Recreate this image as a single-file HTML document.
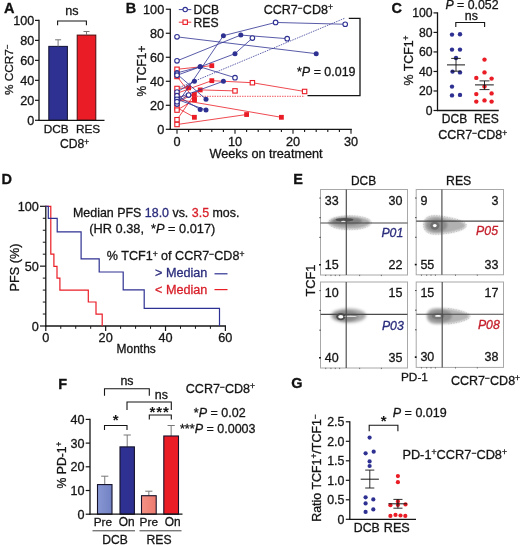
<!DOCTYPE html>
<html lang="en"><head><meta charset="utf-8"><title>Figure</title>
<style>
html,body{margin:0;padding:0;background:#fff;}
body{width:520px;height:545px;overflow:hidden;}
svg{display:block;font-family:"Liberation Sans",Arial,Helvetica,sans-serif;}
svg text{stroke-width:0.3px;}
</style></head><body>
<svg width="520" height="545" viewBox="0 0 520 545">
<defs>
<filter id="bl0" x="-50%" y="-50%" width="200%" height="200%"><feGaussianBlur stdDeviation="0.6"/></filter>
<filter id="bl1" x="-50%" y="-50%" width="200%" height="200%"><feGaussianBlur stdDeviation="1.1"/></filter>
<filter id="bl2" x="-50%" y="-50%" width="200%" height="200%"><feGaussianBlur stdDeviation="1.8"/></filter>
<linearGradient id="gLB" x1="0" x2="1" y1="0" y2="0"><stop offset="0" stop-color="#8797d4"/><stop offset="1" stop-color="#7281c2"/></linearGradient>
<linearGradient id="gLR" x1="0" x2="1" y1="0" y2="0"><stop offset="0" stop-color="#f39185"/><stop offset="1" stop-color="#ed7a6f"/></linearGradient>
</defs>
<rect width="520" height="545" fill="#fff"/>
<g id="panelA">
<text x="4" y="13.2" font-size="14.5" font-weight="bold" fill="#111" stroke="#111">A</text>
<rect x="48.8" y="46.37" width="18.6" height="73.93" fill="#2e3192" stroke="#121235" stroke-width="1"/>
<rect x="77.2" y="35.09" width="18.6" height="85.21" fill="#ea1c25" stroke="#4a0b0e" stroke-width="1"/>
<line x1="58.1" y1="46.373999999999995" x2="58.1" y2="39.8" stroke="#777" stroke-width="1" />
<line x1="55.1" y1="39.8" x2="61.1" y2="39.8" stroke="#777" stroke-width="1" />
<line x1="86.5" y1="35.085300000000004" x2="86.5" y2="31.5" stroke="#777" stroke-width="1" />
<line x1="83.5" y1="31.5" x2="89.5" y2="31.5" stroke="#777" stroke-width="1" />
<line x1="39.0" y1="19.799999999999997" x2="39.0" y2="120.89999999999999" stroke="#151515" stroke-width="1.3" />
<line x1="38.4" y1="120.3" x2="104.5" y2="120.3" stroke="#151515" stroke-width="1.3" />
<line x1="35.0" y1="120.3" x2="39.0" y2="120.3" stroke="#151515" stroke-width="1.2" />
<text id="t1" x="34.2" y="124.81" text-anchor="end" font-size="12.6" fill="#151515" stroke="#151515" >0</text>
<line x1="35.0" y1="100.32" x2="39.0" y2="100.32" stroke="#151515" stroke-width="1.2" />
<text id="t2" x="34.2" y="104.83" text-anchor="end" font-size="12.6" fill="#151515" stroke="#151515" >20</text>
<line x1="35.0" y1="80.34" x2="39.0" y2="80.34" stroke="#151515" stroke-width="1.2" />
<text id="t3" x="34.2" y="84.85" text-anchor="end" font-size="12.6" fill="#151515" stroke="#151515" >40</text>
<line x1="35.0" y1="60.36" x2="39.0" y2="60.36" stroke="#151515" stroke-width="1.2" />
<text id="t4" x="34.2" y="64.87" text-anchor="end" font-size="12.6" fill="#151515" stroke="#151515" >60</text>
<line x1="35.0" y1="40.379999999999995" x2="39.0" y2="40.379999999999995" stroke="#151515" stroke-width="1.2" />
<text id="t5" x="34.2" y="44.89" text-anchor="end" font-size="12.6" fill="#151515" stroke="#151515" >80</text>
<line x1="35.0" y1="20.39999999999999" x2="39.0" y2="20.39999999999999" stroke="#151515" stroke-width="1.2" />
<text id="t6" x="34.2" y="24.91" text-anchor="end" font-size="12.6" fill="#151515" stroke="#151515" >100</text>
<text id="t7" transform="translate(12.8 69.7) rotate(-90)" text-anchor="middle" font-size="11.8" fill="#151515" stroke="#151515">% CCR7<tspan dy="-0.36em" style="font-size:68%">&#8722;</tspan><tspan dy="0.245em">&#8203;</tspan></text>
<path d="M57.6 25.3V21H86.4V25.3" stroke="#151515" stroke-width="1.1" fill="none" />
<text id="t8" x="72" y="14.7" text-anchor="middle" font-size="12.6" fill="#151515" stroke="#151515" >ns</text>
<text id="t9" x="56.1" y="132.7" text-anchor="middle" font-size="11.8" fill="#151515" stroke="#151515" >DCB</text>
<text id="t10" x="88.1" y="132.7" text-anchor="middle" font-size="11.81" fill="#151515" stroke="#151515" >RES</text>
<text id="t11" x="60" y="148.2" text-anchor="start" font-size="12.16" fill="#151515" stroke="#151515" >CD8<tspan dy="-0.42em" style="font-size:68%">+</tspan><tspan dy="0.286em">&#8203;</tspan></text>
</g>
<g id="panelB">
<text x="125.8" y="13.2" font-size="14.5" font-weight="bold" fill="#111" stroke="#111">B</text>
<line x1="177.0" y1="96.29" x2="304.6" y2="96.29" stroke="#ea1c25" stroke-width="0.75" stroke-dasharray="1.5 1"/>
<line x1="177.0" y1="88.48" x2="345.2" y2="18.01" stroke="#2e3192" stroke-width="0.75" stroke-dasharray="1.5 1"/>
<path d="M177.0 69.28L211.8 65.67" stroke="#ea1c25" stroke-width="0.8" fill="none" />
<path d="M177.0 76.48L194.4 99.29" stroke="#ea1c25" stroke-width="0.8" fill="none" />
<path d="M177.0 93.29L211.8 80.68L252.4 82.72L304.6 91.48" stroke="#ea1c25" stroke-width="0.8" fill="none" />
<path d="M177.0 102.89L200.2 89.92L235.0 90.88" stroke="#ea1c25" stroke-width="0.8" fill="none" />
<path d="M177.0 88.48L188.6 87.88" stroke="#ea1c25" stroke-width="0.8" fill="none" />
<path d="M177.0 119.7L194.4 94.49" stroke="#ea1c25" stroke-width="0.8" fill="none" />
<path d="M177.0 107.69L194.4 117.3" stroke="#ea1c25" stroke-width="0.8" fill="none" />
<path d="M177.0 124.5L246.6 114.53" stroke="#ea1c25" stroke-width="0.8" fill="none" />
<path d="M177.0 99.29L281.4 117.3" stroke="#ea1c25" stroke-width="0.8" fill="none" />
<path d="M177.0 110.09L194.4 99.89" stroke="#ea1c25" stroke-width="0.8" fill="none" />
<rect x="174.80" y="67.08" width="4.4" height="4.4" fill="#fff" stroke="#ea1c25" stroke-width="1.1"/>
<rect x="209.40" y="63.27" width="4.8" height="4.8" fill="#ea1c25"/>
<rect x="174.80" y="74.28" width="4.4" height="4.4" fill="#fff" stroke="#ea1c25" stroke-width="1.1"/>
<rect x="192.00" y="96.89" width="4.8" height="4.8" fill="#ea1c25"/>
<rect x="174.80" y="91.09" width="4.4" height="4.4" fill="#fff" stroke="#ea1c25" stroke-width="1.1"/>
<rect x="209.40" y="78.28" width="4.8" height="4.8" fill="#ea1c25"/>
<rect x="250.20" y="80.52" width="4.4" height="4.4" fill="#fff" stroke="#ea1c25" stroke-width="1.1"/>
<rect x="302.40" y="89.28" width="4.4" height="4.4" fill="#fff" stroke="#ea1c25" stroke-width="1.1"/>
<rect x="174.80" y="100.69" width="4.4" height="4.4" fill="#fff" stroke="#ea1c25" stroke-width="1.1"/>
<rect x="197.80" y="87.52" width="4.8" height="4.8" fill="#ea1c25"/>
<rect x="232.80" y="88.68" width="4.4" height="4.4" fill="#fff" stroke="#ea1c25" stroke-width="1.1"/>
<rect x="174.80" y="86.28" width="4.4" height="4.4" fill="#fff" stroke="#ea1c25" stroke-width="1.1"/>
<rect x="186.20" y="85.48" width="4.8" height="4.8" fill="#ea1c25"/>
<rect x="174.80" y="117.50" width="4.4" height="4.4" fill="#fff" stroke="#ea1c25" stroke-width="1.1"/>
<rect x="192.00" y="92.09" width="4.8" height="4.8" fill="#ea1c25"/>
<rect x="174.80" y="105.49" width="4.4" height="4.4" fill="#fff" stroke="#ea1c25" stroke-width="1.1"/>
<rect x="192.00" y="114.90" width="4.8" height="4.8" fill="#ea1c25"/>
<rect x="174.80" y="122.30" width="4.4" height="4.4" fill="#fff" stroke="#ea1c25" stroke-width="1.1"/>
<rect x="244.20" y="112.13" width="4.8" height="4.8" fill="#ea1c25"/>
<rect x="174.80" y="97.09" width="4.4" height="4.4" fill="#fff" stroke="#ea1c25" stroke-width="1.1"/>
<rect x="279.00" y="114.90" width="4.8" height="4.8" fill="#ea1c25"/>
<rect x="174.80" y="107.89" width="4.4" height="4.4" fill="#fff" stroke="#ea1c25" stroke-width="1.1"/>
<rect x="192.00" y="97.49" width="4.8" height="4.8" fill="#ea1c25"/>
<path d="M177.0 36.86L316.2 53.67" stroke="#2e3192" stroke-width="0.8" fill="none" />
<path d="M177.0 60.87L240.8 35.06L287.2 38.66" stroke="#2e3192" stroke-width="0.8" fill="none" />
<path d="M177.0 72.88L200.2 66.87L235.0 53.67L252.4 38.06" stroke="#2e3192" stroke-width="0.8" fill="none" />
<path d="M177.0 104.09L223.4 35.66L275.6 22.46L345.2 24.26" stroke="#2e3192" stroke-width="0.8" fill="none" />
<path d="M177.0 74.08L206.0 99.29" stroke="#2e3192" stroke-width="0.8" fill="none" />
<path d="M177.0 92.08L194.4 81.28" stroke="#2e3192" stroke-width="0.8" fill="none" />
<path d="M177.0 98.09L223.4 81.28" stroke="#2e3192" stroke-width="0.8" fill="none" />
<path d="M177.0 75.28L200.2 66.87L235.0 77.68" stroke="#2e3192" stroke-width="0.8" fill="none" />
<path d="M177.0 95.69L200.2 109.49" stroke="#2e3192" stroke-width="0.8" fill="none" />
<path d="M177.0 99.29L206.0 110.09" stroke="#2e3192" stroke-width="0.8" fill="none" />
<path d="M177.0 101.69L188.6 95.09" stroke="#2e3192" stroke-width="0.8" fill="none" />
<circle cx="177.0" cy="36.86" r="2.3" fill="#fff" stroke="#2e3192" stroke-width="1.1"/>
<circle cx="316.2" cy="53.67" r="2.5" fill="#2e3192"/>
<circle cx="177.0" cy="60.87" r="2.3" fill="#fff" stroke="#2e3192" stroke-width="1.1"/>
<circle cx="240.8" cy="35.06" r="2.5" fill="#2e3192"/>
<circle cx="287.2" cy="38.66" r="2.3" fill="#fff" stroke="#2e3192" stroke-width="1.1"/>
<circle cx="177.0" cy="72.88" r="2.3" fill="#fff" stroke="#2e3192" stroke-width="1.1"/>
<circle cx="200.2" cy="66.87" r="2.5" fill="#2e3192"/>
<circle cx="235.0" cy="53.67" r="2.5" fill="#2e3192"/>
<circle cx="252.4" cy="38.06" r="2.3" fill="#fff" stroke="#2e3192" stroke-width="1.1"/>
<circle cx="177.0" cy="104.09" r="2.3" fill="#fff" stroke="#2e3192" stroke-width="1.1"/>
<circle cx="223.4" cy="35.66" r="2.5" fill="#2e3192"/>
<circle cx="275.6" cy="22.46" r="2.3" fill="#fff" stroke="#2e3192" stroke-width="1.1"/>
<circle cx="345.2" cy="24.26" r="2.3" fill="#fff" stroke="#2e3192" stroke-width="1.1"/>
<circle cx="177.0" cy="74.08" r="2.3" fill="#fff" stroke="#2e3192" stroke-width="1.1"/>
<circle cx="206.0" cy="99.29" r="2.5" fill="#2e3192"/>
<circle cx="177.0" cy="92.08" r="2.3" fill="#fff" stroke="#2e3192" stroke-width="1.1"/>
<circle cx="194.4" cy="81.28" r="2.5" fill="#2e3192"/>
<circle cx="177.0" cy="98.09" r="2.3" fill="#fff" stroke="#2e3192" stroke-width="1.1"/>
<circle cx="223.4" cy="81.28" r="2.5" fill="#2e3192"/>
<circle cx="177.0" cy="75.28" r="2.3" fill="#fff" stroke="#2e3192" stroke-width="1.1"/>
<circle cx="200.2" cy="66.87" r="2.5" fill="#2e3192"/>
<circle cx="235.0" cy="77.68" r="2.3" fill="#fff" stroke="#2e3192" stroke-width="1.1"/>
<circle cx="177.0" cy="95.69" r="2.3" fill="#fff" stroke="#2e3192" stroke-width="1.1"/>
<circle cx="200.2" cy="109.49" r="2.5" fill="#2e3192"/>
<circle cx="177.0" cy="99.29" r="2.3" fill="#fff" stroke="#2e3192" stroke-width="1.1"/>
<circle cx="206.0" cy="110.09" r="2.5" fill="#2e3192"/>
<circle cx="177.0" cy="101.69" r="2.3" fill="#fff" stroke="#2e3192" stroke-width="1.1"/>
<circle cx="188.6" cy="95.09" r="2.3" fill="#fff" stroke="#2e3192" stroke-width="1.1"/>
<line x1="170.3" y1="8.65" x2="170.3" y2="129.9" stroke="#151515" stroke-width="1.3" />
<line x1="169.7" y1="129.3" x2="351.8" y2="129.3" stroke="#151515" stroke-width="1.3" />
<line x1="165.8" y1="129.3" x2="170.3" y2="129.3" stroke="#151515" stroke-width="1.2" />
<text id="t12" x="164.2" y="133.85" text-anchor="end" font-size="12.7" fill="#151515" stroke="#151515" >0</text>
<line x1="165.8" y1="105.29" x2="170.3" y2="105.29" stroke="#151515" stroke-width="1.2" />
<text id="t13" x="164.2" y="109.84" text-anchor="end" font-size="12.7" fill="#151515" stroke="#151515" >20</text>
<line x1="165.8" y1="81.28" x2="170.3" y2="81.28" stroke="#151515" stroke-width="1.2" />
<text id="t14" x="164.2" y="85.83" text-anchor="end" font-size="12.7" fill="#151515" stroke="#151515" >40</text>
<line x1="165.8" y1="57.27" x2="170.3" y2="57.27" stroke="#151515" stroke-width="1.2" />
<text id="t15" x="164.2" y="61.82" text-anchor="end" font-size="12.7" fill="#151515" stroke="#151515" >60</text>
<line x1="165.8" y1="33.26" x2="170.3" y2="33.26" stroke="#151515" stroke-width="1.2" />
<text id="t16" x="164.2" y="37.81" text-anchor="end" font-size="12.7" fill="#151515" stroke="#151515" >80</text>
<line x1="165.8" y1="9.25" x2="170.3" y2="9.25" stroke="#151515" stroke-width="1.2" />
<text id="t17" x="164.2" y="13.8" text-anchor="end" font-size="12.7" fill="#151515" stroke="#151515" >100</text>
<line x1="177.0" y1="129.3" x2="177.0" y2="133.8" stroke="#151515" stroke-width="1.1" />
<line x1="188.6" y1="129.3" x2="188.6" y2="132.10000000000002" stroke="#151515" stroke-width="1.1" />
<line x1="200.2" y1="129.3" x2="200.2" y2="132.10000000000002" stroke="#151515" stroke-width="1.1" />
<line x1="211.8" y1="129.3" x2="211.8" y2="132.10000000000002" stroke="#151515" stroke-width="1.1" />
<line x1="223.4" y1="129.3" x2="223.4" y2="132.10000000000002" stroke="#151515" stroke-width="1.1" />
<line x1="235.0" y1="129.3" x2="235.0" y2="133.8" stroke="#151515" stroke-width="1.1" />
<line x1="246.6" y1="129.3" x2="246.6" y2="132.10000000000002" stroke="#151515" stroke-width="1.1" />
<line x1="258.2" y1="129.3" x2="258.2" y2="132.10000000000002" stroke="#151515" stroke-width="1.1" />
<line x1="269.8" y1="129.3" x2="269.8" y2="132.10000000000002" stroke="#151515" stroke-width="1.1" />
<line x1="281.4" y1="129.3" x2="281.4" y2="132.10000000000002" stroke="#151515" stroke-width="1.1" />
<line x1="293.0" y1="129.3" x2="293.0" y2="133.8" stroke="#151515" stroke-width="1.1" />
<line x1="304.6" y1="129.3" x2="304.6" y2="132.10000000000002" stroke="#151515" stroke-width="1.1" />
<line x1="316.2" y1="129.3" x2="316.2" y2="132.10000000000002" stroke="#151515" stroke-width="1.1" />
<line x1="327.8" y1="129.3" x2="327.8" y2="132.10000000000002" stroke="#151515" stroke-width="1.1" />
<line x1="339.4" y1="129.3" x2="339.4" y2="132.10000000000002" stroke="#151515" stroke-width="1.1" />
<line x1="351.0" y1="129.3" x2="351.0" y2="133.8" stroke="#151515" stroke-width="1.1" />
<text id="t18" x="177.0" y="145.5" text-anchor="middle" font-size="12.7" fill="#151515" stroke="#151515" >0</text>
<text id="t19" x="235.0" y="145.5" text-anchor="middle" font-size="12.7" fill="#151515" stroke="#151515" >10</text>
<text id="t20" x="293.0" y="145.5" text-anchor="middle" font-size="12.7" fill="#151515" stroke="#151515" >20</text>
<text id="t21" x="351.0" y="145.5" text-anchor="middle" font-size="12.7" fill="#151515" stroke="#151515" >30</text>
<text id="t22" x="266" y="157.7" text-anchor="middle" font-size="12.68" fill="#151515" stroke="#151515" >Weeks on treatment</text>
<text id="t23" transform="translate(146.1 71) rotate(-90)" text-anchor="middle" font-size="12.05" fill="#151515" stroke="#151515">% TCF1+</text>
<line x1="178.8" y1="9.6" x2="191.3" y2="9.6" stroke="#2e3192" stroke-width="0.9" />
<circle cx="185.2" cy="9.6" r="2.2" fill="#fff" stroke="#2e3192" stroke-width="1.1"/>
<text id="t24" x="193.6" y="14" text-anchor="start" font-size="12.13" fill="#151515" stroke="#151515" >DCB</text>
<line x1="178.8" y1="22.2" x2="191.3" y2="22.2" stroke="#ea1c25" stroke-width="0.9" />
<rect x="183" y="20" width="4.4" height="4.4" fill="#fff" stroke="#ea1c25" stroke-width="1.1"/>
<text id="t25" x="193.6" y="26.7" text-anchor="start" font-size="12.16" fill="#151515" stroke="#151515" >RES</text>
<text id="t26" x="263.7" y="13.8" text-anchor="start" font-size="12.56" fill="#151515" stroke="#151515" >CCR7<tspan dy="-0.36em" style="font-size:68%">&#8722;</tspan><tspan dy="0.245em">&#8203;</tspan>CD8<tspan dy="-0.42em" style="font-size:68%">+</tspan><tspan dy="0.286em">&#8203;</tspan></text>
<path d="M348.8 18.3H360V95.7H307.5" stroke="#151515" stroke-width="1.3" fill="none" />
<text id="t27" x="297" y="76.2" text-anchor="start" font-size="12.46" fill="#151515" stroke="#151515" >*<tspan font-style="italic">P</tspan> = 0.019</text>
</g>
<g id="panelC">
<text x="391.6" y="13.2" font-size="14.5" font-weight="bold" fill="#111" stroke="#111">C</text>
<text id="t28" x="445.5" y="9.0" text-anchor="start" font-size="12.31" fill="#151515" stroke="#151515" ><tspan font-style="italic">P</tspan> = 0.052</text>
<path d="M455.8 27V22.5H484.6V27" stroke="#151515" stroke-width="1.1" fill="none" />
<text id="t29" x="471.3" y="19.5" text-anchor="middle" font-size="12.4" fill="#151515" stroke="#151515" >ns</text>
<line x1="437.5" y1="12.3" x2="437.5" y2="111.1" stroke="#151515" stroke-width="1.3" />
<line x1="436.9" y1="110.5" x2="498.8" y2="110.5" stroke="#151515" stroke-width="1.3" />
<line x1="433.5" y1="110.5" x2="437.5" y2="110.5" stroke="#151515" stroke-width="1.2" />
<text id="t30" x="432.5" y="114.87" text-anchor="end" font-size="12.2" fill="#151515" stroke="#151515" >0</text>
<line x1="433.5" y1="90.98" x2="437.5" y2="90.98" stroke="#151515" stroke-width="1.2" />
<text id="t31" x="432.5" y="95.35" text-anchor="end" font-size="12.2" fill="#151515" stroke="#151515" >20</text>
<line x1="433.5" y1="71.46" x2="437.5" y2="71.46" stroke="#151515" stroke-width="1.2" />
<text id="t32" x="432.5" y="75.83" text-anchor="end" font-size="12.2" fill="#151515" stroke="#151515" >40</text>
<line x1="433.5" y1="51.94" x2="437.5" y2="51.94" stroke="#151515" stroke-width="1.2" />
<text id="t33" x="432.5" y="56.31" text-anchor="end" font-size="12.2" fill="#151515" stroke="#151515" >60</text>
<line x1="433.5" y1="32.42" x2="437.5" y2="32.42" stroke="#151515" stroke-width="1.2" />
<text id="t34" x="432.5" y="36.79" text-anchor="end" font-size="12.2" fill="#151515" stroke="#151515" >80</text>
<line x1="433.5" y1="12.9" x2="437.5" y2="12.9" stroke="#151515" stroke-width="1.2" />
<text id="t35" x="432.5" y="17.27" text-anchor="end" font-size="12.2" fill="#151515" stroke="#151515" >100</text>
<text id="t36" transform="translate(413.0 60.5) rotate(-90)" text-anchor="middle" font-size="12.39" fill="#151515" stroke="#151515">% TCF1<tspan dy="-0.42em" style="font-size:68%">+</tspan><tspan dy="0.286em">&#8203;</tspan></text>
<circle cx="452" cy="34.6" r="2.2" fill="#2e3192"/>
<circle cx="460" cy="34.2" r="2.2" fill="#2e3192"/>
<circle cx="452" cy="49.6" r="2.2" fill="#2e3192"/>
<circle cx="460" cy="49.6" r="2.2" fill="#2e3192"/>
<circle cx="456" cy="58.0" r="2.2" fill="#2e3192"/>
<circle cx="452.5" cy="71.6" r="2.2" fill="#2e3192"/>
<circle cx="460" cy="72.4" r="2.2" fill="#2e3192"/>
<circle cx="452" cy="86.6" r="2.2" fill="#2e3192"/>
<circle cx="452" cy="95.4" r="2.2" fill="#2e3192"/>
<circle cx="460" cy="94.9" r="2.2" fill="#2e3192"/>
<circle cx="484.5" cy="59.6" r="2.2" fill="#ea1c25"/>
<circle cx="484.5" cy="72.4" r="2.2" fill="#ea1c25"/>
<circle cx="476.3" cy="77.9" r="2.2" fill="#ea1c25"/>
<circle cx="491.6" cy="78.6" r="2.2" fill="#ea1c25"/>
<circle cx="484.5" cy="86.6" r="2.2" fill="#ea1c25"/>
<circle cx="476.3" cy="94.1" r="2.2" fill="#ea1c25"/>
<circle cx="491.6" cy="93.4" r="2.2" fill="#ea1c25"/>
<circle cx="476.3" cy="101.6" r="2.2" fill="#ea1c25"/>
<circle cx="484.5" cy="100.4" r="2.2" fill="#ea1c25"/>
<circle cx="491.6" cy="101.6" r="2.2" fill="#ea1c25"/>
<line x1="447" y1="64.9" x2="465" y2="64.9" stroke="#151515" stroke-width="1" />
<line x1="456" y1="58.4" x2="456" y2="71.2" stroke="#151515" stroke-width="0.9" />
<line x1="451.2" y1="58.4" x2="460.8" y2="58.4" stroke="#151515" stroke-width="0.9" />
<line x1="451.2" y1="71.2" x2="460.8" y2="71.2" stroke="#151515" stroke-width="0.9" />
<line x1="475" y1="84.9" x2="493.8" y2="84.9" stroke="#151515" stroke-width="1" />
<line x1="484.5" y1="80.9" x2="484.5" y2="89.6" stroke="#151515" stroke-width="0.9" />
<line x1="479.5" y1="80.9" x2="489.5" y2="80.9" stroke="#151515" stroke-width="0.9" />
<line x1="479.5" y1="89.6" x2="489.5" y2="89.6" stroke="#151515" stroke-width="0.9" />
<text id="t37" x="454.5" y="123" text-anchor="middle" font-size="12.03" fill="#151515" stroke="#151515" >DCB</text>
<text id="t38" x="486.3" y="123" text-anchor="middle" font-size="12.05" fill="#151515" stroke="#151515" >RES</text>
<text id="t39" x="472.7" y="139.3" text-anchor="middle" font-size="12.53" fill="#151515" stroke="#151515" >CCR7<tspan dy="-0.36em" style="font-size:68%">&#8722;</tspan><tspan dy="0.245em">&#8203;</tspan>CD8<tspan dy="-0.42em" style="font-size:68%">+</tspan><tspan dy="0.286em">&#8203;</tspan></text>
</g>
<g id="panelD">
<text x="1.6" y="184" font-size="14.5" font-weight="bold" fill="#111" stroke="#111">D</text>
<line x1="45.8" y1="205.70000000000002" x2="45.8" y2="326.6" stroke="#151515" stroke-width="1.3" />
<line x1="45.199999999999996" y1="326" x2="225.98" y2="326" stroke="#151515" stroke-width="1.3" />
<line x1="40.0" y1="326.0" x2="45.8" y2="326.0" stroke="#151515" stroke-width="1.2" />
<text id="t40" x="38.9" y="330.55" text-anchor="end" font-size="12.7" fill="#151515" stroke="#151515" >0</text>
<line x1="40.0" y1="266.15" x2="45.8" y2="266.15" stroke="#151515" stroke-width="1.2" />
<text id="t41" x="38.9" y="270.7" text-anchor="end" font-size="12.7" fill="#151515" stroke="#151515" >50</text>
<line x1="40.0" y1="206.3" x2="45.8" y2="206.3" stroke="#151515" stroke-width="1.2" />
<text id="t42" x="38.9" y="210.85" text-anchor="end" font-size="12.7" fill="#151515" stroke="#151515" >100</text>
<line x1="42.8" y1="314.03" x2="45.8" y2="314.03" stroke="#151515" stroke-width="1.0" />
<line x1="42.8" y1="302.06" x2="45.8" y2="302.06" stroke="#151515" stroke-width="1.0" />
<line x1="42.8" y1="290.09" x2="45.8" y2="290.09" stroke="#151515" stroke-width="1.0" />
<line x1="42.8" y1="278.12" x2="45.8" y2="278.12" stroke="#151515" stroke-width="1.0" />
<line x1="42.8" y1="254.18" x2="45.8" y2="254.18" stroke="#151515" stroke-width="1.0" />
<line x1="42.8" y1="242.21" x2="45.8" y2="242.21" stroke="#151515" stroke-width="1.0" />
<line x1="42.8" y1="230.24" x2="45.8" y2="230.24" stroke="#151515" stroke-width="1.0" />
<line x1="42.8" y1="218.27" x2="45.8" y2="218.27" stroke="#151515" stroke-width="1.0" />
<line x1="45.8" y1="326" x2="45.8" y2="331" stroke="#151515" stroke-width="1.2" />
<text id="t43" x="45.8" y="342.4" text-anchor="middle" font-size="12.7" fill="#151515" stroke="#151515" >0</text>
<line x1="105.66" y1="326" x2="105.66" y2="331" stroke="#151515" stroke-width="1.2" />
<text id="t44" x="105.66" y="342.4" text-anchor="middle" font-size="12.7" fill="#151515" stroke="#151515" >20</text>
<line x1="165.52" y1="326" x2="165.52" y2="331" stroke="#151515" stroke-width="1.2" />
<text id="t45" x="165.52" y="342.4" text-anchor="middle" font-size="12.7" fill="#151515" stroke="#151515" >40</text>
<line x1="225.38" y1="326" x2="225.38" y2="331" stroke="#151515" stroke-width="1.2" />
<text id="t46" x="225.38" y="342.4" text-anchor="middle" font-size="12.7" fill="#151515" stroke="#151515" >60</text>
<line x1="60.77" y1="326" x2="60.77" y2="328.8" stroke="#151515" stroke-width="1.0" />
<line x1="75.73" y1="326" x2="75.73" y2="328.8" stroke="#151515" stroke-width="1.0" />
<line x1="90.69" y1="326" x2="90.69" y2="328.8" stroke="#151515" stroke-width="1.0" />
<line x1="120.62" y1="326" x2="120.62" y2="328.8" stroke="#151515" stroke-width="1.0" />
<line x1="135.59" y1="326" x2="135.59" y2="328.8" stroke="#151515" stroke-width="1.0" />
<line x1="150.56" y1="326" x2="150.56" y2="328.8" stroke="#151515" stroke-width="1.0" />
<line x1="180.49" y1="326" x2="180.49" y2="328.8" stroke="#151515" stroke-width="1.0" />
<line x1="195.45" y1="326" x2="195.45" y2="328.8" stroke="#151515" stroke-width="1.0" />
<line x1="210.41" y1="326" x2="210.41" y2="328.8" stroke="#151515" stroke-width="1.0" />
<text id="t47" x="136.2" y="353" text-anchor="middle" font-size="11.95" fill="#151515" stroke="#151515" >Months</text>
<text id="t48" transform="translate(19.2 267.5) rotate(-90)" text-anchor="middle" font-size="12.65" fill="#151515" stroke="#151515">PFS (%)</text>
<path d="M45.8 206.3H50.8V254.2H53.9V266.4H57V278.2H59.9V290.1H88.3V302H96V314.1H102.2V326" stroke="#ea1c25" stroke-width="1.2" fill="none" />
<path d="M45.8 206.3H48.3V218.3H57.2V231.8H81.1V258.9H99.2V272H123.2V289.9H144.2V308.4H219.5V326" stroke="#2e3192" stroke-width="1.2" fill="none" />
<text id="t49" x="73" y="217" text-anchor="start" font-size="12.43" fill="#151515" stroke="#151515" >Median PFS <tspan fill="#2a2c7c" stroke="#2a2c7c">18.0</tspan> vs. <tspan fill="#d81f29" stroke="#d81f29">3.5</tspan> mos.</text>
<text id="t50" x="89.3" y="232.7" text-anchor="start" font-size="12.77" fill="#151515" stroke="#151515" >(HR 0.38,&#160; *<tspan font-style="italic">P</tspan> = 0.017)</text>
<text id="t51" x="106.8" y="260.2" text-anchor="start" font-size="12.57" fill="#151515" stroke="#151515" >% TCF1<tspan dy="-0.42em" style="font-size:68%">+</tspan><tspan dy="0.286em">&#8203;</tspan> of CCR7<tspan dy="-0.36em" style="font-size:68%">&#8722;</tspan><tspan dy="0.245em">&#8203;</tspan>CD8<tspan dy="-0.42em" style="font-size:68%">+</tspan><tspan dy="0.286em">&#8203;</tspan></text>
<text id="t52" x="155" y="277.3" text-anchor="start" font-size="12.65" fill="#2a2c7c" stroke="#2a2c7c" >&gt; Median</text>
<line x1="214.5" y1="273.8" x2="227.5" y2="273.8" stroke="#2e3192" stroke-width="1.2" />
<text id="t53" x="155" y="293.7" text-anchor="start" font-size="12.65" fill="#d81f29" stroke="#d81f29" >&lt; Median</text>
<line x1="214.5" y1="289.6" x2="227.5" y2="289.6" stroke="#ea1c25" stroke-width="1.2" />
</g>
<g id="panelE">
<text x="293.2" y="184" font-size="14.5" font-weight="bold" fill="#111" stroke="#111">E</text>
<text id="t54" x="363.5" y="185" text-anchor="middle" font-size="11.93" fill="#151515" stroke="#151515" >DCB</text>
<text id="t55" x="458.7" y="185" text-anchor="middle" font-size="12.25" fill="#151515" stroke="#151515" >RES</text>
<text id="t56" transform="translate(314.9 280.6) rotate(-90)" text-anchor="middle" font-size="12.8" fill="#151515" stroke="#151515">TCF1</text>
<text id="t57" x="401" y="381.3" text-anchor="start" font-size="11.8" fill="#151515" stroke="#151515" >PD-1</text>
<text id="t58" x="451" y="384.5" text-anchor="start" font-size="12.53" fill="#151515" stroke="#151515" >CCR7<tspan dy="-0.36em" style="font-size:68%">&#8722;</tspan><tspan dy="0.245em">&#8203;</tspan>CD8<tspan dy="-0.42em" style="font-size:68%">+</tspan><tspan dy="0.286em">&#8203;</tspan></text>
<g filter="url(#bl1)">
<ellipse cx="349.5" cy="222.6" rx="21" ry="6.4" fill="#a6a6a6" opacity="0.95" />
<ellipse cx="347" cy="221.2" rx="15" ry="4" fill="#7c7c7c" opacity="0.9" />
</g><g filter="url(#bl0)">
<ellipse cx="344.5" cy="219.7" rx="9" ry="1.7" fill="#454545" opacity="0.85" />
<ellipse cx="343.4" cy="221.4" rx="2.4" ry="0.7" fill="#f0f0f0" opacity="0.9" />
</g>
<ellipse cx="350" cy="222.7" rx="21.5" ry="7" fill="none" stroke="#8a8a8a" stroke-width="0.45" stroke-dasharray="1.2 1.4" opacity="0.7"/>
<rect x="320.5" y="189.5" width="87.0" height="85.5" fill="none" stroke="#a8a8a8" stroke-width="1"/>
<line x1="346.3" y1="189.5" x2="346.3" y2="275" stroke="#4a4a4a" stroke-width="1.15" />
<line x1="320.5" y1="223" x2="407.5" y2="223" stroke="#4a4a4a" stroke-width="1.15" />
<line x1="319.3" y1="198.05" x2="320.8" y2="198.05" stroke="#333" stroke-width="0.9" />
<line x1="319.3" y1="217.715" x2="320.8" y2="217.715" stroke="#333" stroke-width="0.9" />
<line x1="319.3" y1="237.38" x2="320.8" y2="237.38" stroke="#333" stroke-width="0.9" />
<line x1="319.3" y1="264.74" x2="320.8" y2="264.74" stroke="#333" stroke-width="0.9" />
<line x1="319.1" y1="264.74" x2="320.8" y2="264.74" stroke="#111" stroke-width="1.6" />
<line x1="325.72" y1="274.8" x2="325.72" y2="276.1" stroke="#555" stroke-width="0.8" />
<line x1="330.94" y1="274.8" x2="330.94" y2="276.1" stroke="#555" stroke-width="0.8" />
<line x1="335.29" y1="274.8" x2="335.29" y2="276.1" stroke="#555" stroke-width="0.8" />
<line x1="339.64" y1="274.8" x2="339.64" y2="276.1" stroke="#555" stroke-width="0.8" />
<line x1="359.65" y1="274.8" x2="359.65" y2="276.1" stroke="#555" stroke-width="0.8" />
<line x1="381.4" y1="274.8" x2="381.4" y2="276.1" stroke="#555" stroke-width="0.8" />
<text id="t59" x="324.7" y="204.5" text-anchor="start" font-size="12.5" fill="#151515" stroke="#151515" >33</text>
<text id="t60" x="402.5" y="204.5" text-anchor="end" font-size="12.5" fill="#151515" stroke="#151515" >30</text>
<text id="t61" x="324.7" y="268.8" text-anchor="start" font-size="12.5" fill="#151515" stroke="#151515" >15</text>
<text id="t62" x="402.5" y="268.8" text-anchor="end" font-size="12.5" fill="#151515" stroke="#151515" >22</text>
<text id="t63" x="403.3" y="236.8" text-anchor="end" font-size="12.3" fill="#2a2c7c" stroke="#2a2c7c" font-style="italic">P01</text>
<g filter="url(#bl1)">
<path d="M424 225 C424 214 436 215.5 446 217.5 C456 219 466 222 466 225.5 C466 229 455 232 446 233 C436 234.5 424 235 424 225Z" stroke="none" stroke-width="1.2" fill="#adadad" opacity="0.95"/>
<ellipse cx="437" cy="225.2" rx="10.5" ry="6.8" fill="#8a8a8a" opacity="0.9" />
</g><g filter="url(#bl0)">
<ellipse cx="434.8" cy="225.6" rx="4.6" ry="4.2" fill="#6c6c6c" opacity="0.9" />
<ellipse cx="434.8" cy="225.6" rx="1.9" ry="1.7" fill="#fff" opacity="1" />
</g>
<path d="M423.6 225 C423.6 213.6 436 215 446 217 C456 218.6 466.5 221.8 466.5 225.5 C466.5 229.2 455 232.4 446 233.5 C436 235 423.6 235.6 423.6 225Z" stroke="#777" stroke-width="0.45" fill="none" stroke-dasharray="1.2 1.4" opacity="0.75"/>
<rect x="416.2" y="189.5" width="87.30000000000001" height="85.30000000000001" fill="none" stroke="#a8a8a8" stroke-width="1"/>
<line x1="441.9" y1="189.5" x2="441.9" y2="274.8" stroke="#4a4a4a" stroke-width="1.15" />
<line x1="416.2" y1="221.1" x2="503.5" y2="221.1" stroke="#4a4a4a" stroke-width="1.15" />
<line x1="415.0" y1="198.03" x2="416.5" y2="198.03" stroke="#333" stroke-width="0.9" />
<line x1="415.0" y1="217.649" x2="416.5" y2="217.649" stroke="#333" stroke-width="0.9" />
<line x1="415.0" y1="237.268" x2="416.5" y2="237.268" stroke="#333" stroke-width="0.9" />
<line x1="415.0" y1="264.564" x2="416.5" y2="264.564" stroke="#333" stroke-width="0.9" />
<line x1="414.8" y1="264.564" x2="416.5" y2="264.564" stroke="#111" stroke-width="1.6" />
<line x1="421.438" y1="274.6" x2="421.438" y2="275.90000000000003" stroke="#555" stroke-width="0.8" />
<line x1="426.676" y1="274.6" x2="426.676" y2="275.90000000000003" stroke="#555" stroke-width="0.8" />
<line x1="431.041" y1="274.6" x2="431.041" y2="275.90000000000003" stroke="#555" stroke-width="0.8" />
<line x1="435.406" y1="274.6" x2="435.406" y2="275.90000000000003" stroke="#555" stroke-width="0.8" />
<line x1="455.485" y1="274.6" x2="455.485" y2="275.90000000000003" stroke="#555" stroke-width="0.8" />
<line x1="477.31" y1="274.6" x2="477.31" y2="275.90000000000003" stroke="#555" stroke-width="0.8" />
<text id="t64" x="420.4" y="204.5" text-anchor="start" font-size="12.5" fill="#151515" stroke="#151515" >9</text>
<text id="t65" x="498.5" y="204.5" text-anchor="end" font-size="12.5" fill="#151515" stroke="#151515" >3</text>
<text id="t66" x="420.4" y="268.6" text-anchor="start" font-size="12.5" fill="#151515" stroke="#151515" >55</text>
<text id="t67" x="498.5" y="268.6" text-anchor="end" font-size="12.5" fill="#151515" stroke="#151515" >33</text>
<text id="t68" x="498" y="235" text-anchor="end" font-size="12.3" fill="#c4202c" stroke="#c4202c" font-style="italic">P05</text>
<g filter="url(#bl2)">
<ellipse cx="348.5" cy="315.6" rx="17.5" ry="7.2" fill="#a2a2a2" opacity="0.95" />
</g><g filter="url(#bl1)">
<ellipse cx="346" cy="316" rx="12" ry="5.2" fill="#828282" opacity="0.85" />
</g><g filter="url(#bl0)">
<ellipse cx="340.8" cy="316.6" rx="4.6" ry="3.6" fill="#4a4a4a" opacity="0.95" />
<ellipse cx="340.8" cy="316.8" rx="2.6" ry="1.8" fill="#fff" opacity="1" />
<ellipse cx="350.5" cy="316.4" rx="6.5" ry="0.7" fill="#e8e8e8" opacity="0.9" />
</g>
<rect x="320.5" y="282" width="87.0" height="86" fill="none" stroke="#a8a8a8" stroke-width="1"/>
<line x1="346.2" y1="282" x2="346.2" y2="368" stroke="#4a4a4a" stroke-width="1.15" />
<line x1="320.5" y1="314.4" x2="407.5" y2="314.4" stroke="#4a4a4a" stroke-width="1.15" />
<line x1="319.3" y1="290.6" x2="320.8" y2="290.6" stroke="#333" stroke-width="0.9" />
<line x1="319.3" y1="310.38" x2="320.8" y2="310.38" stroke="#333" stroke-width="0.9" />
<line x1="319.3" y1="330.16" x2="320.8" y2="330.16" stroke="#333" stroke-width="0.9" />
<line x1="319.3" y1="357.68" x2="320.8" y2="357.68" stroke="#333" stroke-width="0.9" />
<line x1="319.1" y1="357.68" x2="320.8" y2="357.68" stroke="#111" stroke-width="1.6" />
<line x1="325.72" y1="367.8" x2="325.72" y2="369.1" stroke="#555" stroke-width="0.8" />
<line x1="330.94" y1="367.8" x2="330.94" y2="369.1" stroke="#555" stroke-width="0.8" />
<line x1="335.29" y1="367.8" x2="335.29" y2="369.1" stroke="#555" stroke-width="0.8" />
<line x1="339.64" y1="367.8" x2="339.64" y2="369.1" stroke="#555" stroke-width="0.8" />
<line x1="359.65" y1="367.8" x2="359.65" y2="369.1" stroke="#555" stroke-width="0.8" />
<line x1="381.4" y1="367.8" x2="381.4" y2="369.1" stroke="#555" stroke-width="0.8" />
<text id="t69" x="324.7" y="297" text-anchor="start" font-size="12.5" fill="#151515" stroke="#151515" >10</text>
<text id="t70" x="402.5" y="297" text-anchor="end" font-size="12.5" fill="#151515" stroke="#151515" >15</text>
<text id="t71" x="324.7" y="361.8" text-anchor="start" font-size="12.5" fill="#151515" stroke="#151515" >40</text>
<text id="t72" x="402.5" y="361.8" text-anchor="end" font-size="12.5" fill="#151515" stroke="#151515" >35</text>
<text id="t73" x="403.8" y="330" text-anchor="end" font-size="12.3" fill="#2a2c7c" stroke="#2a2c7c" font-style="italic">P03</text>
<g filter="url(#bl1)">
<path d="M426.5 316 C426.5 307 438 307.5 448 308.8 C458 310 469.5 313 469.5 316.2 C469.5 319.5 458 322.5 448 323.6 C438 325 426.5 325.5 426.5 316Z" stroke="none" stroke-width="1.2" fill="#b0b0b0" opacity="0.95"/>
<ellipse cx="440" cy="316" rx="12" ry="6.2" fill="#8c8c8c" opacity="0.9" />
</g><g filter="url(#bl0)">
<ellipse cx="438" cy="316" rx="6.5" ry="3.2" fill="#767676" opacity="0.9" />
<ellipse cx="438" cy="315.9" rx="3" ry="0.95" fill="#fff" opacity="1" />
</g>
<path d="M448 308.4 C458 309.6 470 312.8 470 316.2 C470 319.8 458 322.9 448 324" stroke="#888" stroke-width="0.45" fill="none" stroke-dasharray="1.2 1.4" opacity="0.75"/>
<rect x="416.2" y="282" width="87.30000000000001" height="85.39999999999998" fill="none" stroke="#a8a8a8" stroke-width="1"/>
<line x1="442.2" y1="282" x2="442.2" y2="367.4" stroke="#4a4a4a" stroke-width="1.15" />
<line x1="416.2" y1="314.2" x2="503.5" y2="314.2" stroke="#4a4a4a" stroke-width="1.15" />
<line x1="415.0" y1="290.54" x2="416.5" y2="290.54" stroke="#333" stroke-width="0.9" />
<line x1="415.0" y1="310.182" x2="416.5" y2="310.182" stroke="#333" stroke-width="0.9" />
<line x1="415.0" y1="329.824" x2="416.5" y2="329.824" stroke="#333" stroke-width="0.9" />
<line x1="415.0" y1="357.152" x2="416.5" y2="357.152" stroke="#333" stroke-width="0.9" />
<line x1="414.8" y1="357.152" x2="416.5" y2="357.152" stroke="#111" stroke-width="1.6" />
<line x1="421.438" y1="367.2" x2="421.438" y2="368.5" stroke="#555" stroke-width="0.8" />
<line x1="426.676" y1="367.2" x2="426.676" y2="368.5" stroke="#555" stroke-width="0.8" />
<line x1="431.041" y1="367.2" x2="431.041" y2="368.5" stroke="#555" stroke-width="0.8" />
<line x1="435.406" y1="367.2" x2="435.406" y2="368.5" stroke="#555" stroke-width="0.8" />
<line x1="455.485" y1="367.2" x2="455.485" y2="368.5" stroke="#555" stroke-width="0.8" />
<line x1="477.31" y1="367.2" x2="477.31" y2="368.5" stroke="#555" stroke-width="0.8" />
<text id="t74" x="420.4" y="297" text-anchor="start" font-size="12.5" fill="#151515" stroke="#151515" >15</text>
<text id="t75" x="498.5" y="297" text-anchor="end" font-size="12.5" fill="#151515" stroke="#151515" >17</text>
<text id="t76" x="420.4" y="361.2" text-anchor="start" font-size="12.5" fill="#151515" stroke="#151515" >30</text>
<text id="t77" x="498.5" y="361.2" text-anchor="end" font-size="12.5" fill="#151515" stroke="#151515" >38</text>
<text id="t78" x="499.8" y="329" text-anchor="end" font-size="12.3" fill="#c4202c" stroke="#c4202c" font-style="italic">P08</text>
</g>
<g id="panelF">
<text x="58.2" y="389" font-size="14.5" font-weight="bold" fill="#111" stroke="#111">F</text>
<line x1="104.75" y1="484.58" x2="104.75" y2="476.2" stroke="#777" stroke-width="1" />
<line x1="101.15" y1="476.2" x2="108.35" y2="476.2" stroke="#777" stroke-width="1" />
<rect x="97.5" y="484.58" width="14.50" height="29.62" fill="url(#gLB)" stroke="#15122a" stroke-width="1.1"/>
<line x1="127.2" y1="446.89" x2="127.2" y2="435" stroke="#777" stroke-width="1" />
<line x1="123.60000000000001" y1="435" x2="130.8" y2="435" stroke="#777" stroke-width="1" />
<rect x="120" y="446.89" width="14.40" height="67.31" fill="#2e3192" stroke="#15122a" stroke-width="1.1"/>
<line x1="148.85" y1="495.71" x2="148.85" y2="491.2" stroke="#777" stroke-width="1" />
<line x1="145.25" y1="491.2" x2="152.45" y2="491.2" stroke="#777" stroke-width="1" />
<rect x="141.5" y="495.71" width="14.70" height="18.49" fill="url(#gLR)" stroke="#15122a" stroke-width="1.1"/>
<line x1="171.15" y1="435.99" x2="171.15" y2="425.5" stroke="#777" stroke-width="1" />
<line x1="167.55" y1="425.5" x2="174.75" y2="425.5" stroke="#777" stroke-width="1" />
<rect x="163.8" y="435.99" width="14.70" height="78.21" fill="#ea1c25" stroke="#15122a" stroke-width="1.1"/>
<line x1="90" y1="418.79999999999995" x2="90" y2="514.8000000000001" stroke="#151515" stroke-width="1.3" />
<line x1="89.4" y1="514.2" x2="182.5" y2="514.2" stroke="#151515" stroke-width="1.3" />
<line x1="85.7" y1="514.2" x2="90" y2="514.2" stroke="#151515" stroke-width="1.2" />
<text id="t79" x="84.6" y="518.71" text-anchor="end" font-size="12.6" fill="#151515" stroke="#151515" >0</text>
<line x1="85.7" y1="490.5" x2="90" y2="490.5" stroke="#151515" stroke-width="1.2" />
<text id="t80" x="84.6" y="495.01" text-anchor="end" font-size="12.6" fill="#151515" stroke="#151515" >10</text>
<line x1="85.7" y1="466.8" x2="90" y2="466.8" stroke="#151515" stroke-width="1.2" />
<text id="t81" x="84.6" y="471.31" text-anchor="end" font-size="12.6" fill="#151515" stroke="#151515" >20</text>
<line x1="85.7" y1="443.1" x2="90" y2="443.1" stroke="#151515" stroke-width="1.2" />
<text id="t82" x="84.6" y="447.61" text-anchor="end" font-size="12.6" fill="#151515" stroke="#151515" >30</text>
<line x1="85.7" y1="419.4" x2="90" y2="419.4" stroke="#151515" stroke-width="1.2" />
<text id="t83" x="84.6" y="423.91" text-anchor="end" font-size="12.6" fill="#151515" stroke="#151515" >40</text>
<text id="t84" transform="translate(65.8 465) rotate(-90)" text-anchor="middle" font-size="12.22" fill="#151515" stroke="#151515">% PD-1<tspan dy="-0.42em" style="font-size:68%">+</tspan><tspan dy="0.286em">&#8203;</tspan></text>
<path d="M104.5 430V425.5H127V430" stroke="#151515" stroke-width="1.1" fill="none" />
<text x="116.2" y="425.4" text-anchor="middle" font-size="15" font-weight="bold" letter-spacing="1" fill="#151515" stroke="none">*</text>
<path d="M104.5 395.8V388.8H149.3V395.8" stroke="#151515" stroke-width="1.1" fill="none" />
<text id="t85" x="127" y="385" text-anchor="middle" font-size="12.4" fill="#151515" stroke="#151515" >ns</text>
<path d="M127 410V402H171.3V410" stroke="#151515" stroke-width="1.1" fill="none" />
<text id="t86" x="161.3" y="398.8" text-anchor="middle" font-size="12.4" fill="#151515" stroke="#151515" >ns</text>
<path d="M149.3 419.5V415H171.3V419.5" stroke="#151515" stroke-width="1.1" fill="none" />
<text x="159.7" y="417.2" text-anchor="middle" font-size="15" font-weight="bold" letter-spacing="1" fill="#151515" stroke="none">***</text>
<text id="t87" x="93.7" y="526.3" text-anchor="start" font-size="11.8" fill="#151515" stroke="#151515" >Pre</text>
<text id="t88" x="118.7" y="526.3" text-anchor="start" font-size="11.91" fill="#151515" stroke="#151515" >On</text>
<text id="t89" x="139.6" y="526.3" text-anchor="start" font-size="11.8" fill="#151515" stroke="#151515" >Pre</text>
<text id="t90" x="164.8" y="526.3" text-anchor="start" font-size="11.91" fill="#151515" stroke="#151515" >On</text>
<line x1="92.5" y1="530.8" x2="135" y2="530.8" stroke="#444" stroke-width="1" />
<line x1="139.5" y1="530.8" x2="181.5" y2="530.8" stroke="#444" stroke-width="1" />
<text id="t91" x="115" y="543.8" text-anchor="middle" font-size="12.07" fill="#151515" stroke="#151515" >DCB</text>
<text id="t92" x="159" y="543.8" text-anchor="middle" font-size="12.15" fill="#151515" stroke="#151515" >RES</text>
<text id="t93" x="185.8" y="393" text-anchor="start" font-size="12.56" fill="#151515" stroke="#151515" >CCR7<tspan dy="-0.36em" style="font-size:68%">&#8722;</tspan><tspan dy="0.245em">&#8203;</tspan>CD8<tspan dy="-0.42em" style="font-size:68%">+</tspan><tspan dy="0.286em">&#8203;</tspan></text>
<text id="t94" x="193.8" y="417" text-anchor="start" font-size="12.51" fill="#151515" stroke="#151515" >*<tspan font-style="italic">P</tspan> = 0.02</text>
<text id="t95" x="180" y="432.5" text-anchor="start" font-size="12.52" fill="#151515" stroke="#151515" >***<tspan font-style="italic">P</tspan> = 0.0003</text>
</g>
<g id="panelG">
<text x="291.2" y="387.8" font-size="14.5" font-weight="bold" fill="#111" stroke="#111">G</text>
<line x1="349.8" y1="421.2" x2="349.8" y2="519.9" stroke="#151515" stroke-width="1.3" />
<line x1="349.2" y1="519.3" x2="416" y2="519.3" stroke="#151515" stroke-width="1.3" />
<line x1="345.8" y1="519.3" x2="349.8" y2="519.3" stroke="#151515" stroke-width="1.2" />
<text id="t96" x="344.4" y="523.74" text-anchor="end" font-size="12.4" fill="#151515" stroke="#151515" >0</text>
<line x1="345.8" y1="499.8" x2="349.8" y2="499.8" stroke="#151515" stroke-width="1.2" />
<text id="t97" x="344.4" y="504.24" text-anchor="end" font-size="12.4" fill="#151515" stroke="#151515" >0.5</text>
<line x1="345.8" y1="480.3" x2="349.8" y2="480.3" stroke="#151515" stroke-width="1.2" />
<text id="t98" x="344.4" y="484.74" text-anchor="end" font-size="12.4" fill="#151515" stroke="#151515" >1.0</text>
<line x1="345.8" y1="460.8" x2="349.8" y2="460.8" stroke="#151515" stroke-width="1.2" />
<text id="t99" x="344.4" y="465.24" text-anchor="end" font-size="12.4" fill="#151515" stroke="#151515" >1.5</text>
<line x1="345.8" y1="441.3" x2="349.8" y2="441.3" stroke="#151515" stroke-width="1.2" />
<text id="t100" x="344.4" y="445.74" text-anchor="end" font-size="12.4" fill="#151515" stroke="#151515" >2.0</text>
<line x1="345.8" y1="421.8" x2="349.8" y2="421.8" stroke="#151515" stroke-width="1.2" />
<text id="t101" x="344.4" y="426.24" text-anchor="end" font-size="12.4" fill="#151515" stroke="#151515" >2.5</text>
<text id="t102" transform="translate(320.7 468) rotate(-90)" text-anchor="middle" font-size="12.43" fill="#151515" stroke="#151515">Ratio TCF1<tspan dy="-0.42em" style="font-size:68%">+</tspan><tspan dy="0.286em">&#8203;</tspan>/TCF1<tspan dy="-0.36em" style="font-size:68%">&#8722;</tspan><tspan dy="0.245em">&#8203;</tspan></text>
<circle cx="369.6" cy="437.6" r="2.1" fill="#2e3192"/>
<circle cx="365.6" cy="453.3" r="2.1" fill="#2e3192"/>
<circle cx="373.7" cy="451.7" r="2.1" fill="#2e3192"/>
<circle cx="369.6" cy="461.4" r="2.1" fill="#2e3192"/>
<circle cx="369.6" cy="466" r="2.1" fill="#2e3192"/>
<circle cx="365.6" cy="497.3" r="2.1" fill="#2e3192"/>
<circle cx="373.3" cy="499.4" r="2.1" fill="#2e3192"/>
<circle cx="365.6" cy="503.4" r="2.1" fill="#2e3192"/>
<circle cx="365.6" cy="511.9" r="2.1" fill="#2e3192"/>
<circle cx="373.3" cy="509.4" r="2.1" fill="#2e3192"/>
<circle cx="397.9" cy="476.1" r="2.1" fill="#ea1c25"/>
<circle cx="397.9" cy="482.2" r="2.1" fill="#ea1c25"/>
<circle cx="397.9" cy="501.4" r="2.1" fill="#ea1c25"/>
<circle cx="390.4" cy="505.2" r="2.1" fill="#ea1c25"/>
<circle cx="405.5" cy="504.4" r="2.1" fill="#ea1c25"/>
<circle cx="397.9" cy="505" r="2.1" fill="#ea1c25"/>
<circle cx="390.4" cy="515.9" r="2.1" fill="#ea1c25"/>
<circle cx="395.5" cy="514.9" r="2.1" fill="#ea1c25"/>
<circle cx="400.5" cy="515.5" r="2.1" fill="#ea1c25"/>
<circle cx="405.3" cy="515.9" r="2.1" fill="#ea1c25"/>
<line x1="360.7" y1="479.2" x2="378.9" y2="479.2" stroke="#151515" stroke-width="1" />
<line x1="369.8" y1="470.1" x2="369.8" y2="488" stroke="#151515" stroke-width="0.9" />
<line x1="365.2" y1="470.1" x2="374.3" y2="470.1" stroke="#151515" stroke-width="0.9" />
<line x1="365.2" y1="488" x2="374.3" y2="488" stroke="#151515" stroke-width="0.9" />
<line x1="388.4" y1="503.8" x2="407.2" y2="503.8" stroke="#151515" stroke-width="1" />
<line x1="397.9" y1="499.4" x2="397.9" y2="508.2" stroke="#151515" stroke-width="0.9" />
<line x1="393.4" y1="499.4" x2="402.5" y2="499.4" stroke="#151515" stroke-width="0.9" />
<line x1="393.4" y1="508.2" x2="402.5" y2="508.2" stroke="#151515" stroke-width="0.9" />
<path d="M369.2 431.2V425.2H397.9V431.2" stroke="#151515" stroke-width="1.1" fill="none" />
<text x="384.2" y="425.6" text-anchor="middle" font-size="15" font-weight="bold" letter-spacing="1" fill="#151515" stroke="none">*</text>
<text id="t103" x="392.8" y="416.5" text-anchor="start" font-size="12.5" fill="#151515" stroke="#151515" ><tspan font-style="italic">P</tspan> = 0.019</text>
<text id="t104" x="402.4" y="458.9" text-anchor="start" font-size="12.77" fill="#151515" stroke="#151515" >PD-1<tspan dy="-0.42em" style="font-size:68%">+</tspan><tspan dy="0.286em">&#8203;</tspan>CCR7<tspan dy="-0.36em" style="font-size:68%">&#8722;</tspan><tspan dy="0.245em">&#8203;</tspan>CD8<tspan dy="-0.42em" style="font-size:68%">+</tspan><tspan dy="0.286em">&#8203;</tspan></text>
<text id="t105" x="366.8" y="531.5" text-anchor="middle" font-size="12.31" fill="#151515" stroke="#151515" >DCB</text>
<text id="t106" x="396.8" y="531.5" text-anchor="middle" font-size="12.64" fill="#151515" stroke="#151515" >RES</text>
</g>
</svg>
</body></html>
